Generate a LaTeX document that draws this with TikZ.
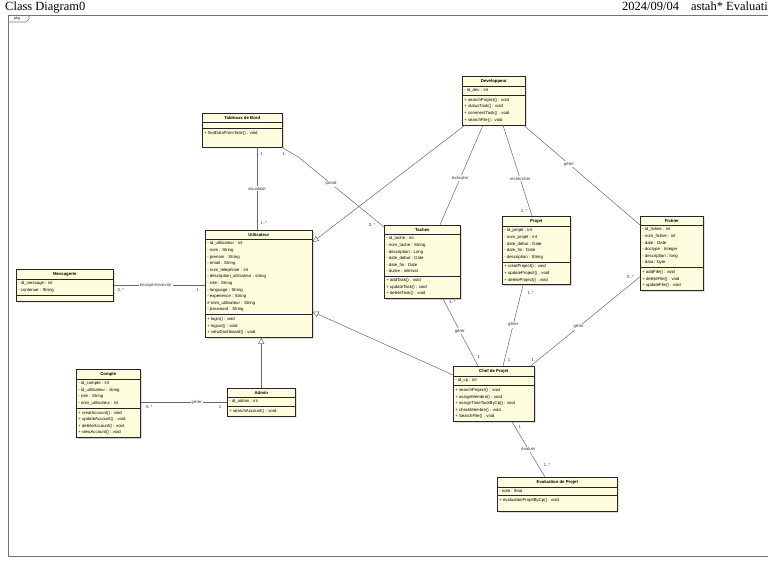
\documentclass[tikz,border=0pt]{standalone}
\usepackage{fontspec}
\setmainfont{Liberation Serif}
\newfontfamily\clsfont{Liberation Sans}
\usepackage{tikz}
\usetikzlibrary{arrows.meta, positioning, shapes.multipart, shadows, calc}

\definecolor{clsfill}{RGB}{254,254,222}
\definecolor{linkgray}{RGB}{105,105,105}

\tikzset{
  umlclass/.style={rectangle split, rectangle split parts=3, draw=black!85, line width=0.6pt,
    fill=clsfill, anchor=north west, align=left, inner xsep=2pt, inner ysep=2.5pt,
    rectangle split part align={center, left, left},
    font=\clsfont\fontsize{4.3}{6.6}\selectfont,
    drop shadow={shadow xshift=1.2pt, shadow yshift=-1.2pt, fill=black!40}},
  link/.style={draw=linkgray, line width=0.5pt},
  gen/.style={link, -{Triangle[open, length=6pt, width=6pt]}},
  role/.style={font=\clsfont\fontsize{4.3}{5}\selectfont, fill=white, inner sep=1pt, text=black!80},
  mult/.style={font=\clsfont\fontsize{4.3}{5}\selectfont, inner sep=1pt, text=black!80},
  frame/.style={draw=black!55, line width=0.6pt},
}

\begin{document}
\begin{tikzpicture}[x=1pt, y=-1pt]
  \useasboundingbox (0,0) rectangle (768,563);

  % header and frame
  \node[anchor=north west, inner sep=0, font=\fontsize{12.5}{13}\selectfont] (title) at (5,1.5) {Class Diagram0};
  \node[anchor=north east, inner sep=0, font=\fontsize{12.5}{13}\selectfont] (stamp) at (768,1.5) {2024/09/04\hspace{12pt}astah* Evaluati};
  \draw[frame] (768,15) -- (8,15) -- (8,556) -- (768,556);
  \draw[frame] (8,22) -- (26,22) -- (29,19) -- (29,15);
  \node[inner sep=0, font=\clsfont\fontsize{3.5}{4}\selectfont] (pkg) at (17,18.5) {pkg};

  % classes
  \node[umlclass, minimum width=63pt] (dev) at (462,76) {\textbf{Developpeur}
    \nodepart{two} - id\_dev : int
    \nodepart{three} + searchProject() : void\\ + statusTask() : void\\ + commentTask() : void\\ + searchFile() : void};

  \node[umlclass, minimum width=80pt] (tdb) at (202,113) {\textbf{Tableaux de Bord}
    \nodepart{two} \rule{0pt}{0.5pt}
    \nodepart{three} + findDataFromTask() : void\rule[-10pt]{0pt}{1pt}};

  \node[umlclass, minimum width=107pt] (util) at (205,230) {\textbf{Utilisateur}
    \nodepart{two} - id\_utilisateur : int\\ - nom : String\\ - prenom : String\\ - email : String\\
      - num\_telephone : int\\ - description\_utilisateur : string\\ - role : String\\ - language : String\\
      - experience : String\\ \# nom\_utilisateur : String\\ - password : String
    \nodepart{three} + login() : void\\ + logout() : void\\ + viewDashboard() : void};

  \node[umlclass, minimum width=97pt] (msg) at (16,269) {\textbf{Messagerie}
    \nodepart{two} - id\_message : int\\ - contenue : String
    \nodepart{three} \rule{0pt}{0.5pt}};

  \node[umlclass, minimum width=76pt] (tache) at (384,225) {\textbf{Taches}
    \nodepart{two} - id\_tache : int\\ - nom\_tache : String\\ - description : Long\\ - date\_debut : Date\\
      - date\_fin : Date\\ - duree : interval
    \nodepart{three} + addTask() : void\\ + updateTask() : void\\ + deleteTask() : void};

  \node[umlclass, minimum width=68pt] (projet) at (502,216) {\textbf{Projet}
    \nodepart{two} - id\_projet : int\\ - nom\_projet : int\\ - date\_debut : Date\\ - date\_fin : Date\\
      - description : String
    \nodepart{three} + creatProject() : void\\ + updateProject() : void\\ + deleteProject() : void};

  \node[umlclass, minimum width=63pt] (fichier) at (640,216) {\textbf{Fichier}
    \nodepart{two} - id\_fichier : int\\ - nom\_fichier : int\\ - date : Date\\ - doctype : Integer\\
      - description : long\\ - data : byte
    \nodepart{three} + addFile() : void\\ + deleteFile() : void\\ + updateFile() : void};

  \node[umlclass, minimum width=64pt] (compte) at (76,369) {\textbf{Compte}
    \nodepart{two} - id\_compte : int\\ - id\_utilisateur : string\\ - role : String\\ - nom\_utilisateur : int
    \nodepart{three} + creatAccount() : void\\ + updateAccount() : void\\ + deleteAccount() : void\\ + viewAccount() : void};

  \node[umlclass, minimum width=68pt] (admin) at (227,388) {\textbf{Admin}
    \nodepart{two} - id\_admin : int
    \nodepart{three} + searchAccount() : void};

  \node[umlclass, minimum width=81pt] (chef) at (453,366) {\textbf{Chef de Projet}
    \nodepart{two} - id\_cp : int
    \nodepart{three} + searchProject() : void\\ + assignMembre() : void\\ + assignTimeTaskByCp() : void\\
      + checkMembre() : void\\ + SearchFile() : void};

  \node[umlclass, minimum width=120pt] (eval) at (497,477) {\textbf{Evaluation de Projet}
    \nodepart{two} - note : float
    \nodepart{three} + evaluationProjetByCp() : void\rule[-7pt]{0pt}{1pt}};

  % generalizations
  \draw[gen] ([xshift=3pt]dev.south west) -- ([yshift=-12pt]util.north east);
  \draw[gen] (admin.north) -- (admin.north |- util.south);
  \draw[gen] ([yshift=-9pt]chef.north west) -- ([yshift=26pt]util.south east);

  % associations
  \draw[link] ([xshift=21pt]dev.south west) -- node[role, pos=0.53]{exécuter} ([xshift=56pt]tache.north west);
  \draw[link] ([xshift=41pt]dev.south west) -- node[role, pos=0.59]{rechercher}
    node[mult, pos=0.95, left=2pt]{1..*} ([xshift=30pt]projet.north west);
  \draw[link] ([xshift=-2pt]dev.south east) -- node[role, pos=0.39]{gérer} ([yshift=-9pt]fichier.north west);

  \draw[link] ([xshift=55pt]tdb.south west) -- node[role]{visualiser}
    node[mult, pos=0.08, right=2pt]{1} node[mult, pos=0.91, right=2pt]{1..*}
    ([xshift=55pt]tdb.south west |- util.north);
  \draw[link] ([xshift=-1pt]tdb.south east) -- node[mult, pos=0.3, below left=1pt]{1} ++(17,10)
    -- node[role, pos=0.38]{prend} node[mult, pos=0.92, below left=1pt]{0..*} ([yshift=-2pt]tache.north west);

  \draw[link] (msg.east) -- node[role, pos=0.46]{envoyer/recevoir}
    node[mult, pos=0.08, below=2pt]{0..*} node[mult, pos=0.92, below=2pt]{1} (msg.east -| util.west);
  \draw[link] (admin.west -| compte.east) -- node[role, pos=0.65]{gérer}
    node[mult, pos=0.1, below=2pt]{0..*} node[mult, pos=0.92, below=2pt]{1} (admin.west);

  \draw[link] ([xshift=59pt]tache.south west) -- node[role, pos=0.48]{gérer}
    node[mult, pos=0.05, right=3pt]{1..*} node[mult, pos=0.87, right=3pt]{1} ([xshift=25pt]chef.north west);
  \draw[link] ([xshift=21pt]projet.south west) -- node[role, pos=0.49]{gérer}
    node[mult, pos=0.1, right=5pt]{1..*} node[mult, pos=0.92, right=2pt]{1} ([xshift=50pt]chef.north west);
  \draw[link] ([yshift=14pt]fichier.south west) -- node[role, pos=0.56]{gérer}
    node[mult, pos=0.04, above left=1pt]{0..*} node[mult, pos=0.93, left=3pt]{1} ([xshift=-4pt]chef.north east);
  \draw[link] ([xshift=59pt]chef.south west) -- node[role, pos=0.5]{évaluer}
    node[mult, pos=0.1, right=2pt]{1} node[mult, pos=0.78, right=5pt]{1..*} ([xshift=48pt]eval.north west);
\end{tikzpicture}
\end{document}
